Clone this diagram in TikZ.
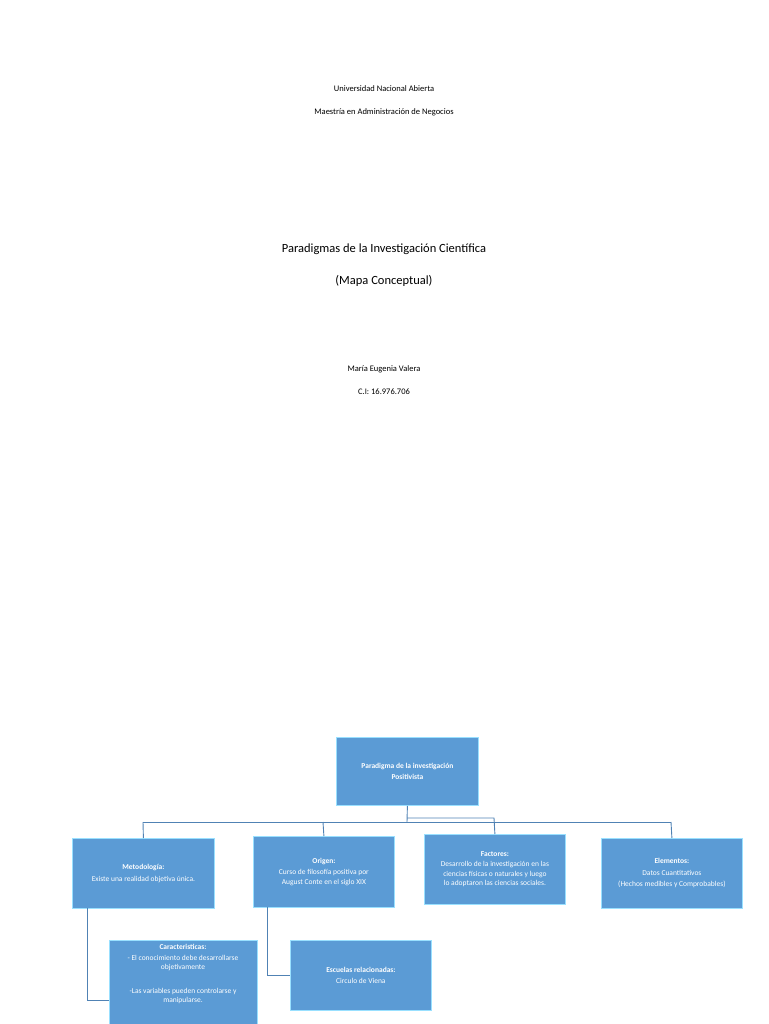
\documentclass[tikz,border=0pt]{standalone}
\usepackage{fontspec}
\setmainfont{Carlito}
\begin{document}
\begin{tikzpicture}[x=1pt,y=-1pt,
  bx/.style={draw=blue!30!cyan!40,line width=0.8pt,fill={rgb,255:red,91;green,155;blue,213},text=white,font=\fontsize{7.5}{9.5}\selectfont,align=center,inner sep=1pt,anchor=north west},
  ln/.style={draw={rgb,255:red,80;green,130;blue,180},line width=0.9pt},
  tt/.style={font=\fontsize{8.5}{10}\selectfont}]
\useasboundingbox (0,0) rectangle (768,1024);
\clip (0,0) rectangle (768,1024);
\node[tt] (u1) at (384,89) {Universidad Nacional Abierta};
\node[tt] (u2) at (384,112) {Maestría en Administración de Negocios};
\node[font=\fontsize{12.5}{14}\selectfont] (t1) at (384,249) {Paradigmas de la Investigación Científica};
\node[font=\fontsize{12.5}{14}\selectfont] (t2) at (384,281) {(Mapa Conceptual)};
\node[tt] (a1) at (384,369) {María Eugenia Valera};
\node[tt] (a2) at (384,392) {C.I: 16.976.706};

\node[bx,minimum width=142,minimum height=68] (top) at (336,737) {\textbf{Paradigma de la investigación}\\[2pt]\textbf{Positivista}};
\node[bx,minimum width=142,minimum height=70] (met) at (72,838) {\textbf{Metodología:}\\[2pt]Existe una realidad objetiva única.};
\node[bx,minimum width=141,minimum height=71] (ori) at (253,836) {\textbf{Origen:}\\[2pt]Curso de filosofía positiva por\\August Conte en el siglo XIX};
\node[bx,minimum width=141,minimum height=70] (fac) at (424,834) {\textbf{Factores:}\\[1pt]Desarrollo de la investigación en las\\ciencias físicas o naturales y luego\\lo adoptaron las ciencias sociales.};
\node[bx,minimum width=141,minimum height=70] (ele) at (601,838) {\textbf{Elementos:}\\[2pt]Datos Cuantitativos\\[2pt](Hechos medibles y Comprobables)};
\node[bx,minimum width=148,minimum height=100,anchor=north west] (car) at (109,940) {};
\node[text=white,font=\fontsize{7.5}{9.5}\selectfont,align=center,anchor=north] (cart) at (183,941) {\textbf{Caracteristicas:}\\[1pt]- El conocimiento debe desarrollarse\\objetivamente\\[14pt]-Las variables pueden controlarse y\\manipularse.};
\node[bx,minimum width=141,minimum height=70] (esc) at (290,940) {\textbf{Escuelas relacionadas:}\\[2pt]Circulo de Viena};

\coordinate (j) at (407,822);
\draw[ln] (top.south) -- (j);
\draw[ln] (143,822) -- (671,822);
\draw[ln] (143,822) -- (met.north);
\draw[ln] (323,822) -- (ori.north);
\draw[ln] (671,822) -- (ele.north);
\draw[ln] (407,818) -- (494,818) -- (fac.north);
\draw[ln] (87,908) -- (87,1000) -- (car.west |- 0,1000);
\draw[ln] (267,907) -- (267,975) -- (esc.west |- 0,975);
\end{tikzpicture}
\end{document}
